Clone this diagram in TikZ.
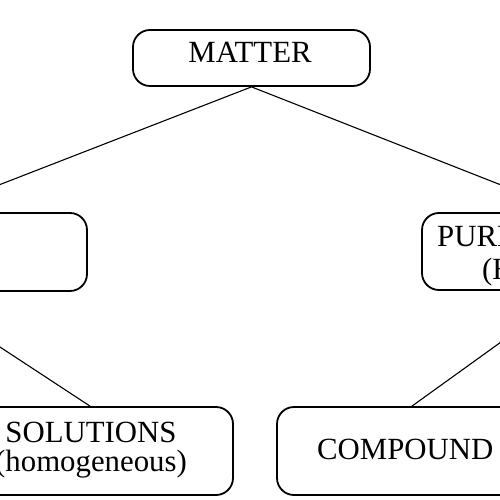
\documentclass[tikz,border=0pt]{standalone}
\usepackage{fontspec}
\setmainfont{Liberation Serif}
\begin{document}
\begin{tikzpicture}[x=1pt,y=1pt,
  box/.style={draw, line width=1.8pt, rounded corners=17pt, inner sep=0pt},
  link/.style={line width=1.1pt},
  lbl/.style={font=\fontsize{30.8}{30.8}\selectfont, inner sep=0pt, anchor=base}]
\useasboundingbox (0,0) rectangle (500,500);
\fill[white] (0,0) rectangle (500,500);
\clip (0,0) rectangle (500,500);
% boxes
\node[box, minimum width=237pt, minimum height=56pt] (matter) at (251.5,442) {};
\node[box, minimum width=316pt, minimum height=78pt] (mix) at (-71,248) {};
\node[box, minimum width=296pt, minimum height=77pt] (pure) at (570,248.5) {};
\node[box, minimum width=280pt, minimum height=88pt] (sol) at (93,49) {};
\node[box, minimum width=280pt, minimum height=88pt] (comp) at (417,49) {};
% connectors
\draw[link] (matter.south) -- (mix.north);
\draw[link] (matter.south) -- (pure.north);
\draw[link] ([xshift=-13pt]mix.south) -- ([xshift=-3pt]sol.north);
\draw[link] ([xshift=2pt]pure.south) -- ([xshift=-5pt]comp.north);
% labels
\node[lbl] (tm) at (250,437) {MATTER};
\node[lbl] (ts1) at (91,57) {SOLUTIONS};
\node[lbl] (ts2) at (91,28) {(homogeneous)};
\node[lbl, anchor=base west] (tc) at (317,40) {COMPOUND};
\node[lbl, anchor=base west] (tp1) at (437,253) {PURE SUBSTANCES};
\node[lbl, anchor=base west] (tp2) at (482,220) {(Homogeneous)};
\end{tikzpicture}
\end{document}
